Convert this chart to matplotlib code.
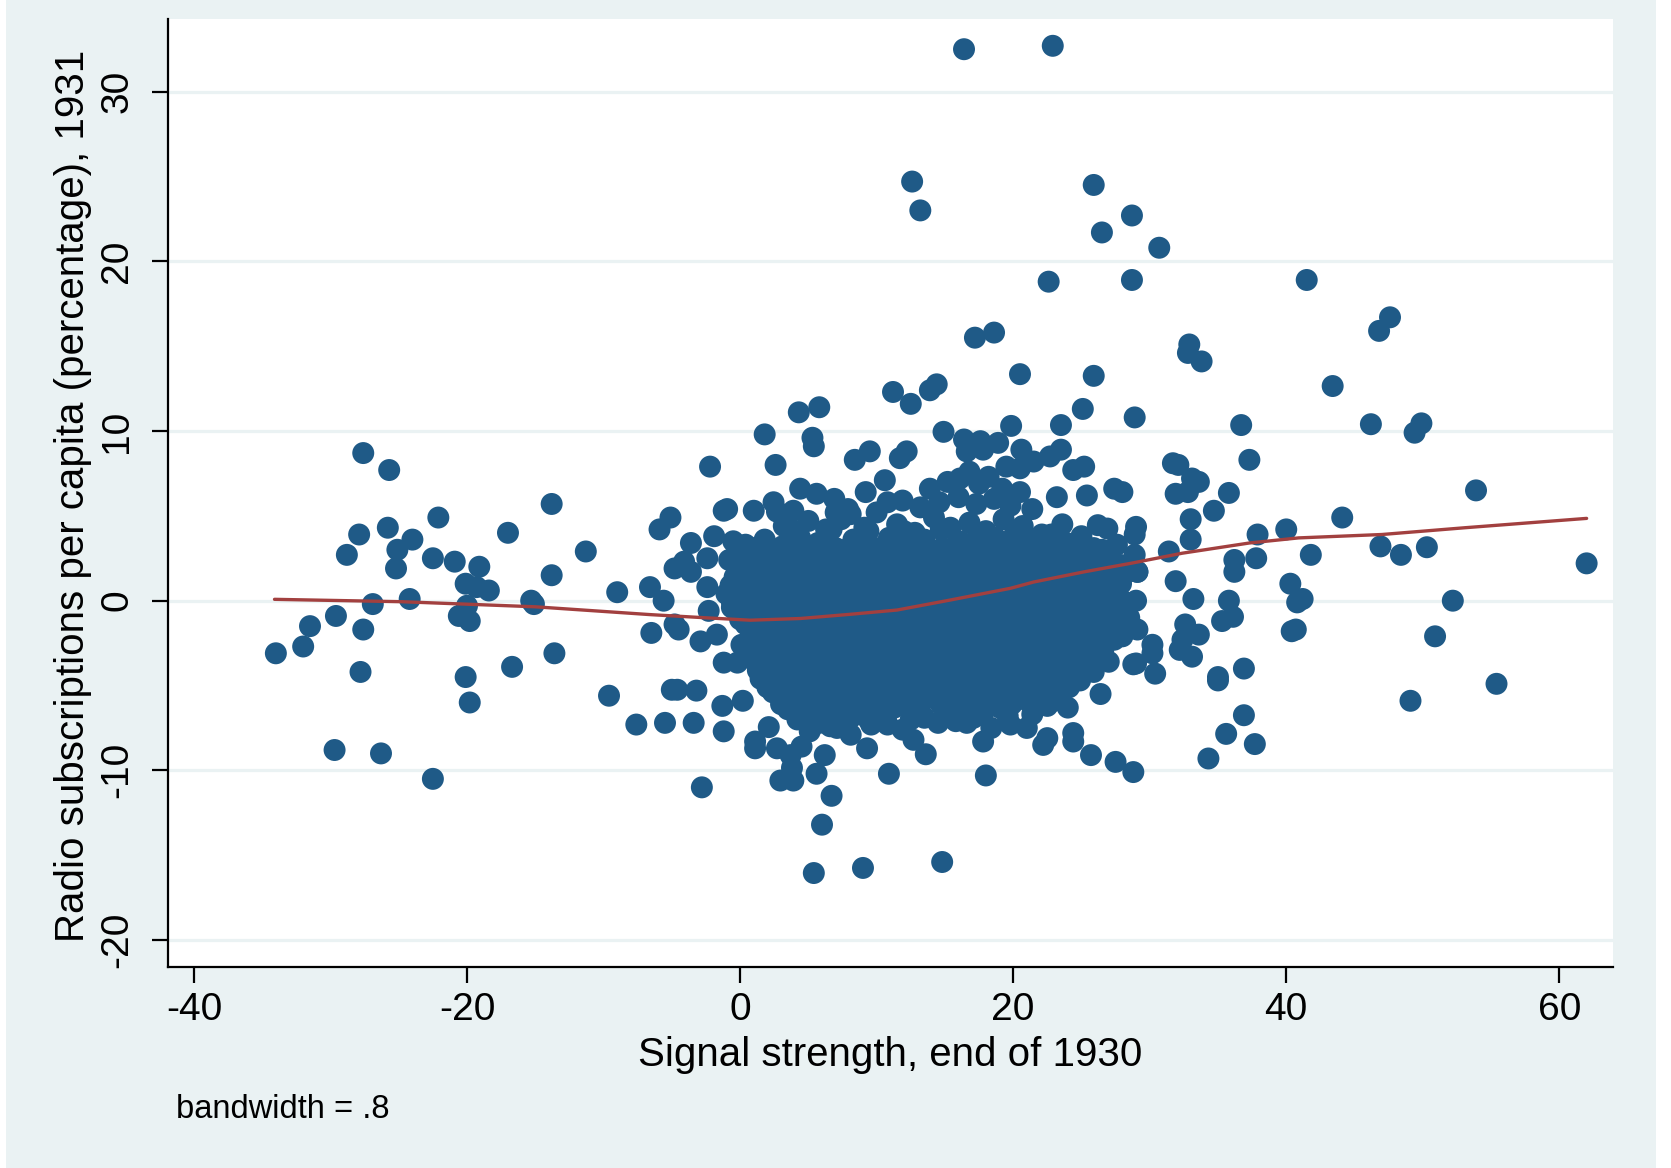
import matplotlib
matplotlib.use("Agg")
import matplotlib.pyplot as plt
from matplotlib.patches import Rectangle

# ---------------- data ----------------
# left tail (signal < 0)
left_x = [-34.0, -32.0, -31.5, -29.6, -29.7, -28.8, -27.9, -27.6, -27.6, -27.8, -26.9, -26.3,
          -25.8, -25.7, -25.1, -25.2, -24.0, -24.2, -22.5, -22.5, -22.1, -20.9, -20.1, -20.0,
          -20.6, -19.8, -20.1, -19.8, -19.1, -19.3, -18.4, -17.0, -16.7, -15.3, -15.1, -13.8,
          -13.8, -13.6, -11.3, -9.6, -9.0, -7.6, -6.6, -6.5, -5.9, -5.5, -5.1, -5.0, -4.6,
          -4.8, -4.5, -4.8, -4.1, -3.6, -3.2, -3.4, -2.9, -2.8, -2.4, -2.4, -2.2, -2.3, -1.9,
          -1.7, -1.3, -1.2, -1.2, -0.95, -0.6, -1.2, -0.2, -0.5, 0.2, 0.2, -5.6, -3.6]
left_y = [-3.1, -2.7, -1.5, -0.9, -8.8, 2.7, 3.9, 8.7, -1.7, -4.2, -0.2, -9.0,
          4.3, 7.7, 3.0, 1.9, 3.6, 0.1, 2.5, -10.5, 4.9, 2.3, 1.0, -0.3,
          -0.9, -1.2, -4.5, -6.0, 2.0, 0.8, 0.6, 4.0, -3.9, 0.0, -0.2, 5.7,
          1.5, -3.1, 2.9, -5.6, 0.5, -7.3, 0.8, -1.9, 4.2, -7.2, 4.9, -5.25, -5.25,
          -1.4, -1.7, 1.9, 2.3, 3.4, -5.3, -7.2, -2.4, -11.0, 2.5, 0.8, 7.9, -0.6, 3.8,
          -2.0, -6.2, -7.7, 5.3, 5.4, -0.4, -3.65, -3.65, 3.5, -5.9, 2.0, 0.0, 1.7]

# scattered points around the central cluster (signal 0-30)
mid_x = [16.4, 22.9, 12.6, 13.2, 25.9, 26.5, 28.7, 22.6, 28.7, 17.2, 18.6, 20.5, 25.9, 25.1,
         28.9, 11.2, 12.5, 13.9, 14.4, 4.3, 5.8, 1.8, 5.3, 5.4, 2.6, 14.9, 16.4, 17.6, 18.9,
         16.6, 17.8, 19.85, 23.5, 20.6, 21.5, 20.5, 19.5, 23.5, 22.7, 24.4, 25.2, 20.5, 23.2,
         25.4, 27.4, 28.0, 26.2, 26.9, 28.9, 8.4, 9.5, 11.7, 12.2, 10.6, 13.9, 16.1, 17.5,
         19.2, 4.4, 5.6, 6.9, 7.9, 8.1, 10.0, 10.8, 1.0, 2.45, 2.7,
         2.1, 1.1, 1.1, 2.7, 3.7, 3.8, 2.95, 3.9, 5.6, 6.2, 6.7, 6.0, 5.4, 9.0, 14.8, 10.9,
         18.0, 12.7, 13.6, 17.8, 22.2, 22.5, 24.4, 24.4, 25.7, 27.5, 28.8, 26.4, 24.0, 22.5,
         23.0, 19.8, 21.0, 20.3, 16.6, 16.0, 14.4, 12.8, 9.3, 8.1, 10.8, 6.6, 5.1, 4.5, 25.0,
         27.0, 28.8, 29.0, 29.1, 29.0, 28.9, 29.1, 29.1, 30.2, 30.2, 29.0]
mid_y = [32.5, 32.7, 24.7, 23.0, 24.5, 21.7, 22.7, 18.8, 18.9, 15.5, 15.8, 13.35, 13.25, 11.3,
         10.8, 12.3, 11.6, 12.4, 12.75, 11.1, 11.4, 9.8, 9.6, 9.1, 8.0, 9.95, 9.5, 9.4, 9.3,
         8.8, 8.9, 10.3, 10.35, 8.9, 8.2, 7.8, 7.9, 8.9, 8.5, 7.7, 7.9, 6.4, 6.1,
         6.2, 6.6, 6.4, 4.45, 4.25, 3.9, 8.3, 8.8, 8.4, 8.8, 7.1, 6.6, 7.2, 6.9,
         6.6, 6.6, 6.3, 6.0, 5.4, 5.1, 5.2, 5.8, 5.3, 5.8, 5.25,
         -7.45, -8.7, -8.3, -8.7, -9.1, -9.85, -10.6, -10.6, -10.2, -9.1, -11.5, -13.2, -16.05, -15.75, -15.4, -10.2,
         -10.3, -8.2, -9.05, -8.3, -8.5, -8.1, -8.3, -7.8, -9.1, -9.5, -10.1, -5.5, -6.3, -6.2,
         -5.9, -7.3, -7.5, -5.6, -7.2, -6.8, -5.7, -6.7, -8.7, -7.9, -7.3, -7.4, -7.7, -8.6, -3.95,
         -3.6, -3.75, 4.35, 1.7, 0.0, 2.7, -1.7, 1.7, -2.6, -3.1, -3.7]

# right tail (signal > 30)
right_x = [30.7, 41.5, 47.6, 46.8, 32.9, 32.8, 33.8, 43.4, 36.7, 46.2, 49.9, 49.4, 37.3, 31.7,
           32.1, 33.1, 33.6, 31.9, 32.8, 35.8, 34.7, 53.9, 33.0, 33.0, 37.9, 40.0, 44.1, 31.4,
           36.2, 36.2, 37.8, 41.8, 46.9, 48.4, 50.3, 62.0, 31.9, 33.2, 35.8, 40.3, 41.2, 40.8,
           52.2, 35.3, 36.1, 32.6, 33.6, 32.4, 40.7, 40.4, 50.9, 30.4, 33.1, 32.2, 35.0, 35.0,
           36.9, 36.9, 35.6, 37.7, 34.3, 49.1, 55.4]
right_y = [20.8, 18.9, 16.7, 15.9, 15.1, 14.6, 14.1, 12.65, 10.35, 10.4, 10.45, 9.9, 8.3, 8.1,
           8.0, 7.2, 7.0, 6.3, 6.4, 6.35, 5.3, 6.5, 4.8, 3.6, 3.9, 4.2, 4.9, 2.9,
           2.4, 1.7, 2.5, 2.7, 3.2, 2.7, 3.15, 2.2, 1.15, 0.1, 0.0, 1.0, 0.1, -0.1,
           0.0, -1.2, -0.95, -1.4, -2.0, -2.3, -1.7, -1.8, -2.1, -4.3, -3.3, -2.9, -4.5, -4.7,
           -4.0, -6.75, -7.85, -8.45, -9.3, -5.9, -4.9]

# dense central cluster (overlapping markers)
core_x = [3.2, 5.0, 6.3, 7.4, 9.1, 11.5, 12.8, 14.2, 15.4, 16.8, 18.0, 19.3, 20.7, 22.1, 23.6, 25.0,
          0.4, 1.8, 3.1, 4.4, 5.7, 7.0, 8.3, 9.6, 10.9, 12.2, 13.5, 14.8, 16.1, 17.4, 18.7, 20.0,
          21.3, 22.6, 23.9, 25.2, 26.5, 27.6,
          -0.8, 0.6, 1.9, 3.3, 4.6, 5.9, 7.2, 8.5, 9.8, 11.1, 12.4, 13.7, 15.0, 16.3, 17.6, 18.9,
          20.2, 21.5, 22.8, 24.1, 25.4, 26.7, 27.9,
          -0.4, 1.0, 2.3, 3.6, 4.9, 6.2, 7.5, 8.8, 10.1, 11.4, 12.7, 14.0, 15.3, 16.6, 17.9, 19.2,
          20.5, 21.8, 23.1, 24.4, 25.7, 27.0, 28.2,
          -1.0, 0.3, 1.6, 2.9, 4.2, 5.5, 6.8, 8.1, 9.4, 10.7, 12.0, 13.3, 14.6, 15.9, 17.2, 18.5,
          19.8, 21.1, 22.4, 23.7, 25.0, 26.3, 27.6,
          -0.3, 1.0, 2.3, 3.6, 4.9, 6.2, 7.5, 8.8, 10.1, 11.4, 12.7, 14.0, 15.3, 16.6, 17.9, 19.2,
          20.5, 21.8, 23.1, 24.4, 25.7, 27.0, 28.3,
          0.4, 1.7, 3.0, 4.3, 5.6, 6.9, 8.2, 9.5, 10.8, 12.1, 13.4, 14.7, 16.0, 17.3, 18.6, 19.9,
          21.2, 22.5, 23.8, 25.1, 26.4, 27.7,
          0.1, 1.4, 2.7, 4.0, 5.3, 6.6, 7.9, 9.2, 10.5, 11.8, 13.1, 14.4, 15.7, 17.0, 18.3, 19.6,
          20.9, 22.2, 23.5, 24.8, 26.1, 27.4,
          0.8, 2.1, 3.4, 4.7, 6.0, 7.3, 8.6, 9.9, 11.2, 12.5, 13.8, 15.1, 16.4, 17.7, 19.0, 20.3,
          21.6, 22.9, 24.2, 25.6,
          1.5, 2.8, 4.1, 5.4, 6.7, 8.0, 9.3, 10.6, 11.9, 13.2, 14.5, 15.8, 17.1, 18.4, 19.7, 21.0,
          22.3, 23.6, 24.9,
          2.4, 3.7, 5.0, 6.3, 7.6, 8.9, 10.2, 11.5, 12.8, 14.1, 15.4, 16.7, 18.0, 19.3, 20.6, 21.9,
          23.2,
          3.5, 4.8, 6.1, 7.4, 8.7, 10.0, 11.3, 12.6, 15.2, 17.8, 19.0, 21.4,
          5.8, 7.1, 9.6, 11.9, 14.5, 18.4,
          14.6, 16.0, 17.3, 18.6, 15.2, 16.8, 18.2, 19.8, 21.4, 13.2, 11.9, 9.2, 7.0, 3.9]
core_y = [4.4, 4.7, 4.2, 4.8, 4.3, 4.5, 4.0, 4.9, 4.3, 4.6, 4.1, 4.8, 4.4, 3.9, 4.5, 3.8,
          3.3, 3.6, 3.2, 3.7, 3.4, 3.1, 3.6, 3.2, 3.7, 3.3, 3.6, 3.1, 3.5, 3.2, 3.7, 3.3,
          3.6, 3.1, 3.4, 3.2, 3.0, 3.3,
          2.4, 2.6, 2.3, 2.7, 2.2, 2.6, 2.3, 2.8, 2.4, 2.7, 2.2, 2.6, 2.4, 2.8, 2.3, 2.6,
          2.2, 2.7, 2.4, 2.6, 2.2, 2.5, 2.1,
          1.4, 1.7, 1.3, 1.6, 1.2, 1.7, 1.4, 1.6, 1.3, 1.8, 1.4, 1.6, 1.2, 1.7, 1.5, 1.3,
          1.7, 1.4, 1.6, 1.2, 1.5, 1.3, 1.6,
          0.4, 0.7, 0.3, 0.6, 0.4, 0.8, 0.3, 0.6, 0.4, 0.7, 0.3, 0.6, 0.5, 0.8, 0.3, 0.6,
          0.4, 0.7, 0.3, 0.5, 0.8, 0.4, 0.6,
          -0.6, -0.3, -0.7, -0.4, -0.6, -0.3, -0.7, -0.4, -0.6, -0.3, -0.7, -0.5, -0.4, -0.7, -0.3, -0.6,
          -0.4, -0.7, -0.3, -0.6, -0.4, -0.7, -0.5,
          -1.4, -1.7, -1.3, -1.6, -1.4, -1.8, -1.3, -1.6, -1.4, -1.7, -1.3, -1.6, -1.4, -1.8, -1.3, -1.6,
          -1.4, -1.7, -1.3, -1.6, -1.4, -1.8,
          -2.6, -2.3, -2.7, -2.4, -2.6, -2.3, -2.7, -2.4, -2.6, -2.3, -2.7, -2.4, -2.6, -2.3, -2.7, -2.4,
          -2.6, -2.3, -2.7, -2.4, -2.6, -2.3,
          -3.4, -3.7, -3.3, -3.6, -3.4, -3.8, -3.3, -3.6, -3.4, -3.7, -3.3, -3.6, -3.4, -3.8, -3.3, -3.6,
          -3.4, -3.7, -3.3, -3.6,
          -4.6, -4.3, -4.7, -4.4, -4.6, -4.3, -4.7, -4.4, -4.6, -4.3, -4.7, -4.4, -4.6, -4.3, -4.7, -4.4,
          -4.6, -4.3, -4.7,
          -5.4, -5.7, -5.3, -5.6, -5.4, -5.8, -5.3, -5.6, -5.4, -5.7, -5.3, -5.6, -5.4, -5.8, -5.3, -5.6,
          -5.4,
          -6.4, -6.7, -6.3, -6.6, -6.4, -6.8, -6.3, -6.6, -6.4, -6.6, -6.3, -6.7,
          -7.2, -7.5, -7.3, -7.6, -7.2, -7.5,
          5.8, 6.1, 5.7, 6.0, 7.0, 7.6, 7.3, 5.6, 5.4, 5.5, 5.9, 6.4, 5.2, 5.3]

# more overlapping cluster points, lying between the ones above
core2_x = [4.0, 6.7, 9.4, 12.0, 14.7, 17.4, 20.1, 22.8,
           -0.2, 1.1, 2.5, 3.8, 5.1, 6.4, 7.7, 9.0, 10.3, 11.6, 12.9, 14.2, 15.5, 16.8, 18.1, 19.4,
           20.7, 22.0, 23.3, 24.6, 25.9, 27.1,
           0.0, 1.3, 2.6, 3.9, 5.3, 6.6, 7.9, 9.2, 10.5, 11.8, 13.1, 14.4, 15.7, 17.0, 18.3, 19.6,
           20.9, 22.2, 23.5, 24.8, 26.1, 27.4,
           -0.7, 0.6, 1.9, 3.2, 4.5, 5.8, 7.1, 8.4, 9.7, 11.0, 12.3, 13.6, 14.9, 16.2, 17.5, 18.8,
           20.1, 21.4, 22.7, 24.0, 25.3, 26.6, 27.9,
           -0.6, 0.7, 2.0, 3.3, 4.6, 5.9, 7.2, 8.5, 9.8, 11.1, 12.4, 13.7, 15.0, 16.3, 17.6, 18.9,
           20.2, 21.5, 22.8, 24.1, 25.4, 26.7, 28.0,
           0.0, 1.3, 2.6, 3.9, 5.2, 6.5, 7.8, 9.1, 10.4, 11.7, 13.0, 14.3, 15.6, 16.9, 18.2, 19.5,
           20.8, 22.1, 23.4, 24.7, 26.0, 27.3, 28.5,
           0.8, 2.1, 3.4, 4.7, 6.0, 7.3, 8.6, 9.9, 11.2, 12.5, 13.8, 15.1, 16.4, 17.7, 19.0, 20.3,
           21.6, 22.9, 24.2, 25.5, 26.8, 28.0,
           0.5, 1.8, 3.1, 4.4, 5.7, 7.0, 8.3, 9.6, 10.9, 12.2, 13.5, 14.8, 16.1, 17.4, 18.7, 20.0,
           21.3, 22.6, 23.9, 25.2, 26.6,
           1.3, 2.6, 3.9, 5.2, 6.5, 7.8, 9.1, 10.4, 11.7, 13.0, 14.3, 15.6, 16.9, 18.2, 19.5, 20.8,
           22.1, 23.4, 24.7, 25.9,
           2.0, 3.3, 4.6, 5.9, 7.2, 8.5, 9.8, 11.1, 12.4, 13.7, 15.0, 16.3, 17.6, 18.9, 20.2, 21.5,
           22.8, 24.1,
           3.0, 4.3, 5.6, 6.9, 8.2, 9.5, 10.8, 12.1, 13.4, 14.7, 16.0, 17.3, 18.6, 19.9, 21.2, 22.5,
           4.2, 5.5, 6.8, 8.1, 9.4, 10.7, 12.5, 13.5, 15.8, 17.1, 19.6]
core2_y = [4.1, 4.2, 4.1, 4.1, 4.2, 3.8, 3.9, 3.9,
           2.9, 3.1, 2.9, 3.0, 3.1, 2.8, 3.0, 2.9, 3.1, 2.9, 3.0, 2.8, 3.1, 2.9, 3.0, 2.9,
           3.1, 2.9, 3.0, 2.8, 3.1, 2.9,
           1.9, 2.1, 1.9, 2.0, 2.1, 1.8, 2.0, 1.9, 2.1, 1.9, 2.0, 1.8, 2.1, 1.9, 2.0, 1.9,
           2.1, 1.9, 2.0, 1.8, 2.1, 1.9,
           0.9, 1.1, 0.9, 1.0, 1.1, 0.8, 1.0, 0.9, 1.1, 0.9, 1.0, 0.8, 1.1, 0.9, 1.0, 0.9,
           1.1, 0.9, 1.0, 0.8, 1.1, 0.9, 1.0,
           -0.1, 0.1, -0.1, 0.0, 0.1, -0.2, 0.0, -0.1, 0.1, -0.1, 0.0, -0.2, 0.1, -0.1, 0.0, -0.1,
           0.1, -0.1, 0.0, -0.2, 0.1, -0.1, 0.0,
           -1.1, -0.9, -1.1, -1.0, -0.9, -1.2, -1.0, -1.1, -0.9, -1.1, -1.0, -1.2, -0.9, -1.1, -1.0, -1.1,
           -0.9, -1.1, -1.0, -1.2, -0.9, -1.1, -1.0,
           -2.1, -1.9, -2.1, -2.0, -1.9, -2.2, -2.0, -2.1, -1.9, -2.1, -2.0, -2.2, -1.9, -2.1, -2.0, -2.1,
           -1.9, -2.1, -2.0, -2.2, -1.9, -2.1,
           -3.1, -2.9, -3.1, -3.0, -2.9, -3.2, -3.0, -3.1, -2.9, -3.1, -3.0, -3.2, -2.9, -3.1, -3.0, -3.1,
           -2.9, -3.1, -3.0, -3.2, -2.9,
           -4.1, -3.9, -4.1, -4.0, -3.9, -4.2, -4.0, -4.1, -3.9, -4.1, -4.0, -4.2, -3.9, -4.1, -4.0, -4.1,
           -3.9, -4.1, -4.0, -4.2,
           -5.1, -4.9, -5.1, -5.0, -4.9, -5.2, -5.0, -5.1, -4.9, -5.1, -5.0, -5.2, -4.9, -5.1, -5.0, -5.1,
           -4.9, -5.1,
           -6.1, -5.9, -6.1, -6.0, -5.9, -6.2, -6.0, -6.1, -5.9, -6.1, -6.0, -6.2, -5.9, -6.1, -6.0, -6.1,
           -7.0, -6.9, -7.1, -6.9, -7.0, -6.8, -7.0, -6.9, -7.1, -6.9, -6.8]

# lowess smooth (bandwidth .8)
lowess_x = [-34.1, -24.8, -15.0, -6.6, -2.7, 0.75, 4.4, 8.1, 11.5, 15.4, 19.8, 21.5, 25.2,
            28.6, 32.4, 37.3, 40.9, 47.0, 53.1, 62.0]
lowess_y = [0.08, -0.06, -0.36, -0.82, -1.0, -1.15, -1.05, -0.8, -0.55, 0.04, 0.73, 1.1, 1.7,
            2.2, 2.8, 3.4, 3.7, 3.9, 4.3, 4.85]

x_ticks = [-40, -20, 0, 20, 40, 60]
y_ticks = [-20, -10, 0, 10, 20, 30]

# ---------------- style ----------------
BG = "#EAF2F3"
MARKER = "#1F5A87"
LINE = "#A2403F"
plt.rcParams["font.family"] = ["Liberation Sans", "DejaVu Sans"]

W, H = 1671, 1168
fig = plt.figure(figsize=(W / 100, H / 100), dpi=100, facecolor="white")
fig.patches.append(Rectangle((6 / W, 0), (1656 - 6) / W, 1, transform=fig.transFigure,
                             facecolor=BG, edgecolor="none", zorder=-10))

L, R, T, B = 168, 1612.7, 19, 966.7
ax = fig.add_axes([L / W, 1 - B / H, (R - L) / W, (B - T) / H])
ax.set_facecolor("white")
ax.set_xlim(-41.9, 63.91)
ax.set_ylim(-21.57, 34.28)

for yv in y_ticks:
    ax.axhline(yv, color=BG, lw=2.3, zorder=0)

ms = 250
for xs, ys in [(left_x, left_y), (core_x, core_y), (core2_x, core2_y), (mid_x, mid_y),
               (right_x, right_y)]:
    ax.scatter(xs, ys, s=ms, color=MARKER, edgecolors="none", zorder=2)

ax.plot(lowess_x, lowess_y, color=LINE, lw=2.4, zorder=3, solid_capstyle="round")

for s in ["top", "right"]:
    ax.spines[s].set_visible(False)
for s in ["left", "bottom"]:
    ax.spines[s].set_linewidth(1.6)
    ax.spines[s].set_color("black")

ax.set_xticks(x_ticks)
ax.set_yticks(y_ticks)
ax.set_xticklabels([str(v) for v in x_ticks])
ax.set_yticklabels([str(v) for v in y_ticks], rotation=90, va="center")
ax.tick_params(axis="both", direction="out", length=11.5, width=1.6, labelsize=28, color="black")
ax.tick_params(axis="x", pad=7)
ax.tick_params(axis="y", pad=12)

fig.text((L + R) / 2 / W, 1 - 1055 / H, "Signal strength, end of 1930", ha="center", va="center",
         fontsize=29)
fig.text(73 / W, 1 - 496 / H, "Radio subscriptions per capita (percentage), 1931", ha="center",
         va="center", rotation=90, fontsize=29)
fig.text(176 / W, 1 - 1109 / H, "bandwidth = .8", ha="left", va="center", fontsize=23.5)

fig.savefig("out.png", dpi=100, facecolor=fig.get_facecolor())
